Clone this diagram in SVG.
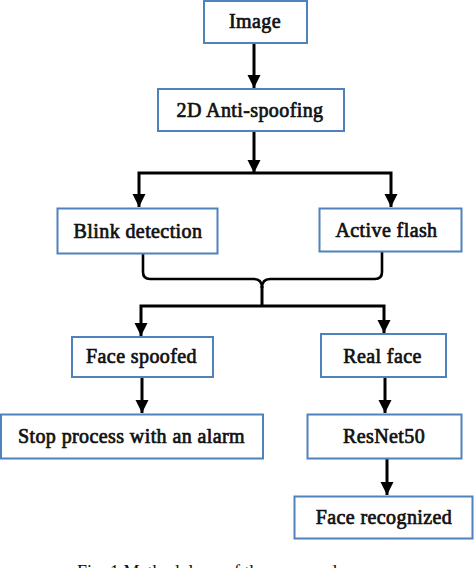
<svg xmlns="http://www.w3.org/2000/svg" width="474" height="568" viewBox="0 0 474 568">
<defs>
<style>
.box{fill:#fff;stroke:#4F81BD;stroke-width:2}
.lbl{font-family:"Liberation Serif","Times New Roman",serif;font-weight:normal;font-size:20px;letter-spacing:0.4px;fill:#111;stroke:#111;stroke-width:0.7px;text-anchor:middle}
.ln{fill:none;stroke:#000;stroke-width:2.6}
.ar{fill:none;stroke:#000;stroke-width:3;marker-end:url(#ah)}
.cap{font-family:"Liberation Serif","Times New Roman",serif;font-size:18px;fill:#111}
</style>
<marker id="ah" markerUnits="userSpaceOnUse" markerWidth="14" markerHeight="14" viewBox="0 0 14 14" refX="13" refY="7" orient="auto">
<path d="M0,0.5 L13,7 L0,13.5 Z" fill="#000"/>
</marker>
</defs>
<rect width="474" height="568" fill="#fff"/>
<g id="connectors">
<path class="ar" d="M254,43 V88"/>
<path class="ar" d="M254,131 V173"/>
<path class="ar" d="M254,173 H139 V207"/>
<path class="ar" d="M254,173 H391 V207"/>
<path class="ln" d="M143,254 V272 Q143,279 150,279 H254 Q262,279 262,288"/>
<path class="ln" d="M382,252 V272 Q382,279 375,279 H270 Q262,279 262,288"/>
<path class="ln" d="M262,286 V306" style="stroke-width:3"/>
<path class="ar" d="M262,306 H141 V336"/>
<path class="ar" d="M262,306 H384 V333"/>
<path class="ar" d="M142,377 V413"/>
<path class="ar" d="M385,377 V413"/>
<path class="ar" d="M387,459 V495"/>
</g>
<g id="node-image"><rect class="box" x="204" y="1" width="103" height="42"/><text class="lbl" x="255" y="28">Image</text></g>
<g id="node-2d"><rect class="box" x="158" y="89" width="186" height="42"/><text class="lbl" x="250" y="117">2D Anti-spoofing</text></g>
<g id="node-blink"><rect class="box" x="57.5" y="208.5" width="160" height="45"/><text class="lbl" x="138" y="238">Blink detection</text></g>
<g id="node-flash"><rect class="box" x="319.5" y="208.5" width="142" height="43"/><text class="lbl" x="386.5" y="237">Active flash</text></g>
<g id="node-spoofed"><rect class="box" x="72" y="337" width="141" height="40"/><text class="lbl" x="141.5" y="363">Face spoofed</text></g>
<g id="node-real"><rect class="box" x="321" y="334" width="125" height="43"/><text class="lbl" x="382.5" y="363">Real face</text></g>
<g id="node-stop"><rect class="box" x="1" y="414.5" width="262" height="44"/><text class="lbl" x="131.5" y="443">Stop process with an alarm</text></g>
<g id="node-resnet"><rect class="box" x="307.5" y="414.5" width="154" height="44"/><text class="lbl" x="384" y="443">ResNet50</text></g>
<g id="node-recognized"><rect class="box" x="294.5" y="496.5" width="178" height="42"/><text class="lbl" x="384" y="524">Face recognized</text></g>
<text class="cap" x="77" y="578">Fig. 1 Methodology of the proposed</text>
</svg>
